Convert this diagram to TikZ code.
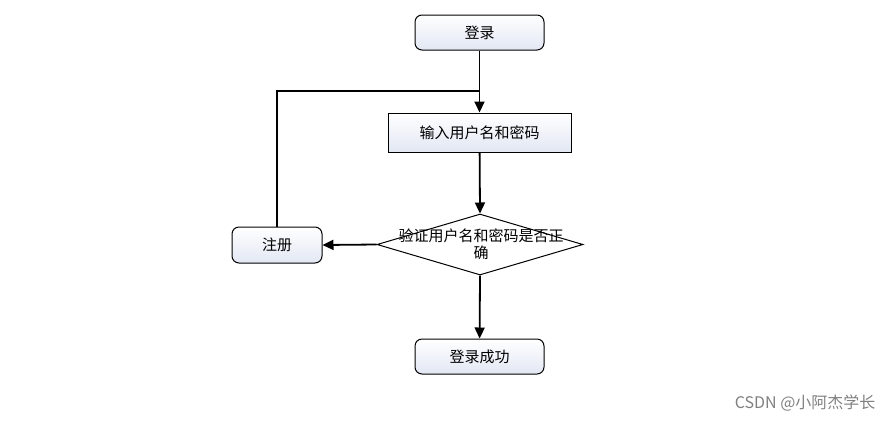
\documentclass[tikz,border=0pt]{standalone}
\usepackage{fontspec}
\setmainfont{Liberation Serif}
\newfontfamily\cjk{Noto Sans CJK SC}
\usetikzlibrary{shapes.geometric,arrows.meta}
\begin{document}
\begin{tikzpicture}[x=1pt,y=-1pt,
  box/.style={draw,line width=1pt,top color=white,bottom color={rgb,255:red,226;green,231;blue,243},font=\cjk\fontsize{15}{17}\selectfont,inner sep=0pt},
  rbox/.style={box,rounded corners=7pt,minimum width=129pt,minimum height=35pt},
  arr/.style={line width=1.8pt,-{Triangle[length=11pt,width=10pt]}}]
\useasboundingbox (0,0) rectangle (893,421);
\node[rbox] (login) at (479.5,32.5) {登录};
\node[box,minimum width=183pt,minimum height=39pt] (input) at (479.5,132.5) {输入用户名和密码};
\node[draw,line width=1pt,fill=white,diamond,aspect=3.4,minimum width=206pt,minimum height=61pt,inner sep=0pt] (check) at (480,244.5) {};
\node[font=\cjk\fontsize{15}{17}\selectfont,align=center] (checkt) at (481,244.5) {验证用户名和密码是否正\\确};
\node[rbox,minimum width=90pt,minimum height=36pt] (reg) at (277,245) {注册};
\node[rbox] (ok) at (479.5,356.5) {登录成功};
\coordinate (corner) at (277,91);
\coordinate (join) at (480,91);
\draw[arr] (login) -- (input);
\draw[line width=1.8pt] (reg.north) -- (corner) -- (join);
\draw[arr] (check.south) -- (ok);
\draw[arr] (input) -- (check.north);
\draw[arr] (check.west) -- (reg.east);
\node[font=\cjk\fontsize{16}{18}\selectfont,text=gray,anchor=east] (wm) at (879,403) {CSDN @小阿杰学长};
\end{tikzpicture}
\end{document}
